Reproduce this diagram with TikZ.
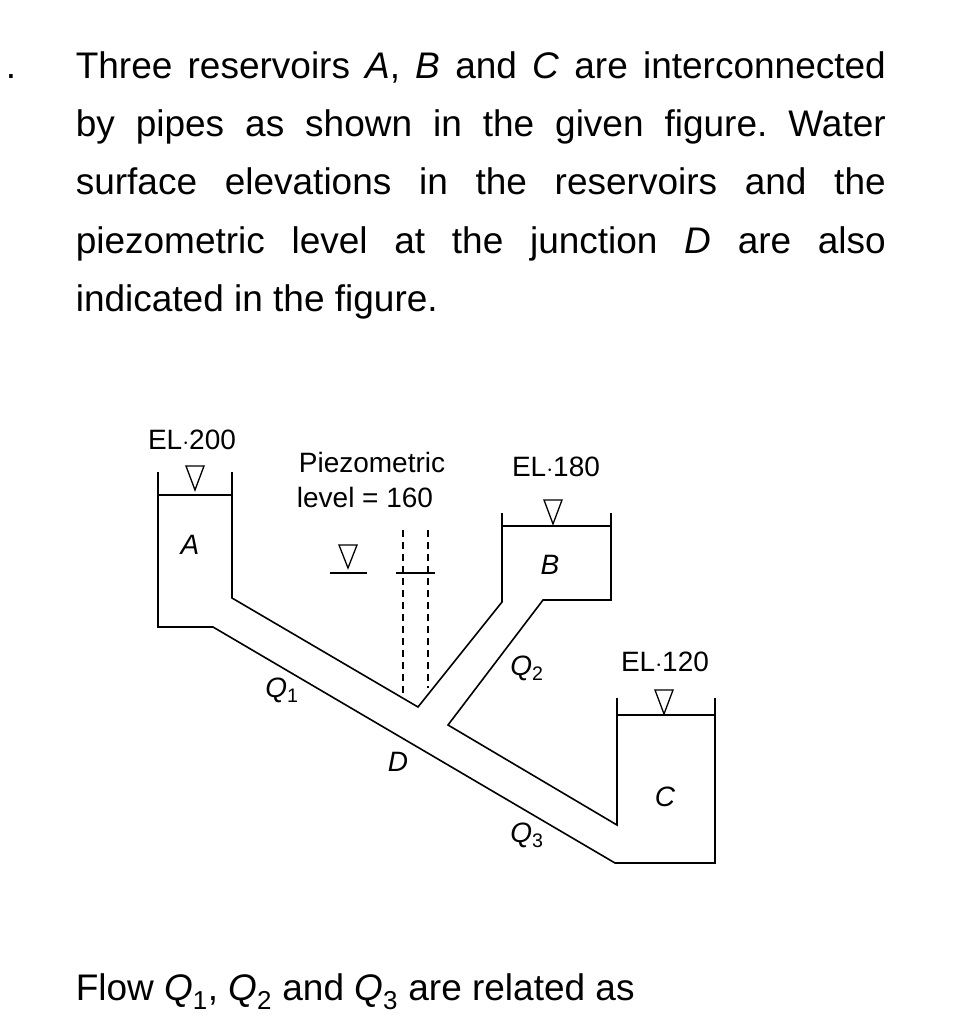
\documentclass[tikz,border=0pt]{standalone}
\usepackage{fontspec}
\setmainfont{Liberation Sans}
\newcommand{\sbs}[1]{\textsubscript{#1}}
\begin{document}
\frenchspacing
\begin{tikzpicture}[x=1pt,y=-1pt,line width=1.6pt,
  lbl/.style={inner sep=0pt,font=\fontsize{28}{32}\selectfont},
  para/.style={inner sep=0pt,anchor=base west,font=\fontsize{37}{44}\selectfont},
  wl/.style={line width=1.3pt}]
\useasboundingbox (0,0) rectangle (963,1024);
% paragraph
\node[para] (l1) at (75,79) {\makebox[810pt][s]{Three reservoirs \textit{A}, \textit{B} and \textit{C} are interconnected}};
\node[para] (l2) at (75,137) {\makebox[810pt][s]{by pipes as shown in the given figure. Water}};
\node[para] (l3) at (75,195) {\makebox[810pt][s]{surface elevations in the reservoirs and the}};
\node[para] (l4) at (75,253) {\makebox[810pt][s]{piezometric level at the junction \textit{D} are also}};
\node[para] (l5) at (75,311) {indicated in the figure.};
\node[para] (dot) at (5,79) {.};
\node[para] (l6) at (75,1000) {Flow \textit{Q}\sbs{1}, \textit{Q}\sbs{2} and \textit{Q}\sbs{3} are related as};
% pipe outline
\draw (158,472) -- (158,627) -- (213,627) -- (615,863) -- (715,863) -- (715,698);
\draw (232,472) -- (232,598) -- (418,707) -- (502,602) -- (502,513);
\draw (611,513) -- (611,600) -- (543,600) -- (448,725) -- (617,825) -- (617,698);
% water lines
\draw[wl] (158,495) -- (232,495);
\draw[wl] (502,526) -- (611,526);
\draw[wl] (617,715) -- (715,715);
% piezometer
\draw[line width=1.3pt,dash pattern=on 7pt off 5pt] (403,530) -- (403,697);
\draw[line width=1.3pt,dash pattern=on 7pt off 5pt] (428,530) -- (428,688);
\draw[wl] (396,573) -- (435,573);
\draw[wl] (330,573) -- (367,573);
% triangles
\draw[wl] (186,466) -- (204,466) -- (195,490) -- cycle;
\draw[wl] (544,500) -- (562,500) -- (553,524) -- cycle;
\draw[wl] (655,690) -- (673,690) -- (664,714) -- cycle;
\draw[wl] (339,545) -- (357,545) -- (348,568) -- cycle;
% labels
\node[lbl] (el200) at (192,440) {EL$\cdot$200};
\node[lbl] (piez) at (372,462) {Piezometric};
\node[lbl] (lev) at (365,497) {level = 160};
\node[lbl] (el180) at (556,467) {EL$\cdot$180};
\node[lbl] (el120) at (665,662) {EL$\cdot$120};
\node[lbl] (A) at (190,545) {\textit{A}};
\node[lbl] (B) at (550,565) {\textit{B}};
\node[lbl] (C) at (665,797) {\textit{C}};
\node[lbl] (D) at (398,762) {\textit{D}};
\node[lbl] (Q1) at (282,690) {\textit{Q}\sbs{1}};
\node[lbl] (Q2) at (527,668) {\textit{Q}\sbs{2}};
\node[lbl] (Q3) at (527,835) {\textit{Q}\sbs{3}};
\end{tikzpicture}
\end{document}
